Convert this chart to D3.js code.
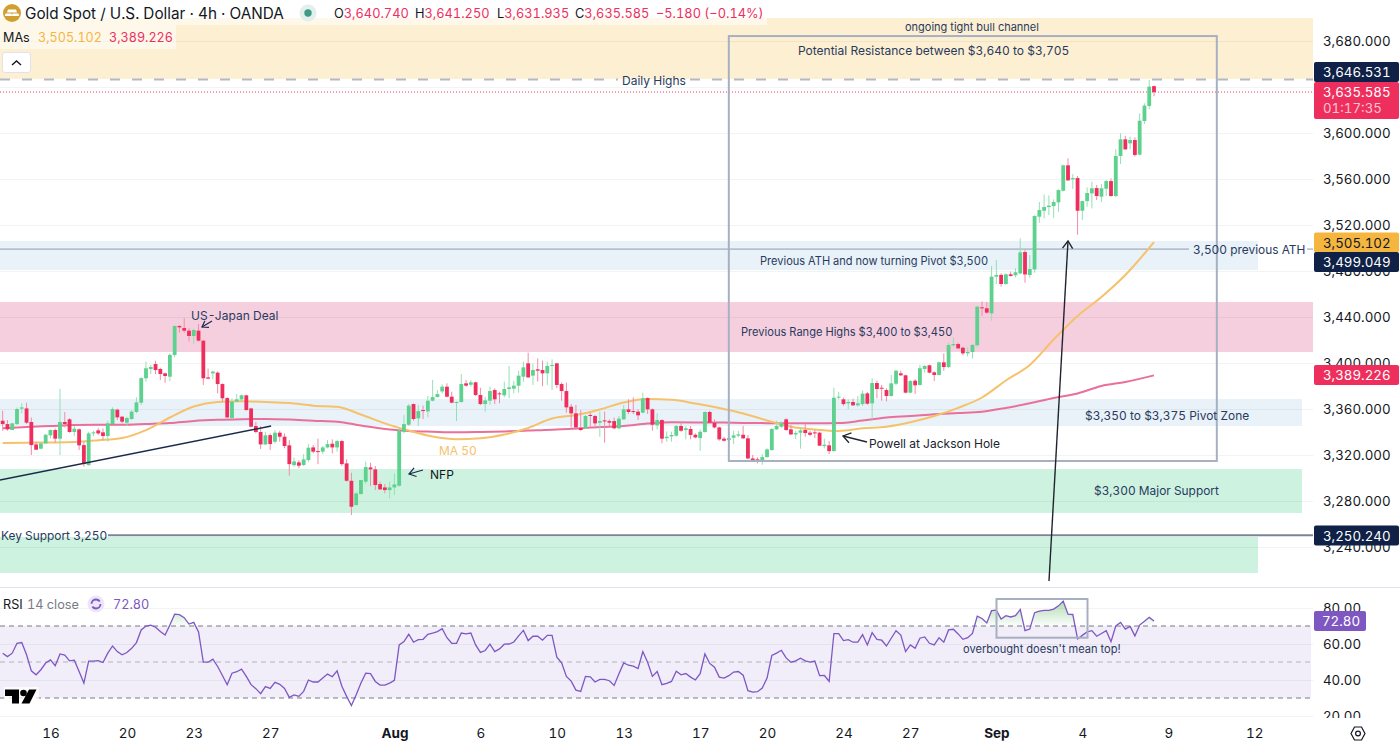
<!DOCTYPE html>
<html>
<head>
<meta charset="utf-8">
<script src="https://d3js.org/d3.v7.min.js"></script>
<style>
html,body{margin:0;padding:0;background:#fff;}
svg{display:block;font-family:Inter,"Noto Sans",sans-serif;font-variant-numeric:tabular-nums;}
</style>
</head>
<body>
<svg id="chart" width="1400" height="742"></svg>
<script>
const opens=[3349.8,3346.9,3341.7,3346.9,3360.3,3360.5,3348.7,3329.2,3325.5,3330.1,
3337.1,3341.7,3334.2,3348.7,3351.0,3340.0,3342.3,3328.6,3311.2,3338.8,
3341.4,3339.7,3336.5,3346.9,3359.4,3353.3,3348.1,3351.3,3357.4,3365.5,
3386.7,3394.8,3399.1,3394.8,3391.0,3388.1,3407.0,3432.2,3430.4,3428.1,
3423.5,3428.1,3419.4,3387.5,3391.0,3391.6,3381.7,3369.5,3352.1,3366.4,
3368.4,3371.9,3360.5,3345.2,3340.0,3329.2,3337.3,3331.5,3339.4,3335.9,
3328.4,3311.2,3313.6,3311.3,3315.6,3326.6,3323.4,3322.9,3326.6,3329.8,
3326.6,3332.1,3312.7,3297.6,3276.5,3286.0,3296.8,3309.2,3307.5,3294.7,
3291.8,3289.5,3291.8,3293.3,3340.2,3346.3,3364.3,3351.9,3359.1,3357.9,
3367.2,3370.4,3375.3,3379.4,3370.7,3365.5,3366.1,3382.3,3381.1,3383.2,
3372.2,3364.3,3367.2,3376.5,3373.6,3371.9,3377.4,3377.7,3380.3,3388.1,
3399.7,3389.0,3394.5,3393.9,3391.0,3397.4,3399.7,3381.7,3375.6,3362.0,
3356.2,3343.7,3343.2,3354.8,3353.9,3348.1,3350.1,3349.5,3349.5,3343.2,
3351.0,3359.7,3358.2,3357.7,3356.8,3369.5,3359.7,3345.8,3350.4,3334.7,
3336.2,3336.8,3345.2,3341.7,3342.6,3337.6,3334.7,3340.0,3357.4,3348.1,
3344.0,3334.2,3333.0,3335.0,3336.8,3337.6,3334.5,3317.0,3316.2,3315.0,
3318.2,3324.3,3342.3,3344.6,3351.0,3342.3,3337.9,3339.4,3341.7,3339.4,
3339.7,3339.4,3327.8,3328.4,3323.4,3370.1,3368.4,3364.9,3366.1,3363.2,
3364.3,3373.6,3364.9,3382.6,3378.5,3376.5,3371.3,3382.0,3391.0,3389.3,
3374.2,3384.6,3380.9,3394.8,3398.0,3391.9,3389.6,3400.6,3396.5,3415.4,
3416.5,3413.3,3408.4,3409.6,3415.4,3448.4,3447.6,3443.2,3475.1,3476.6,
3468.7,3477.1,3476.3,3477.9,3496.5,3476.5,3481.4,3527.2,3532.4,3535.6,
3536.5,3539.7,3549.8,3571.9,3559.7,3560.8,3532.4,3540.8,3547.5,3552.1,
3544.6,3551.6,3558.2,3545.2,3580.0,3594.5,3591.0,3593.9,3581.2,3610.4,3623.5,3640.74];
const highs=[3358.5,3350.4,3348.1,3361.4,3364.9,3365.5,3352.7,3331.5,3331.5,3338.2,
3342.3,3343.1,3377.4,3357.4,3352.1,3345.2,3343.1,3331.5,3340.2,3341.1,
3343.4,3343.1,3349.8,3361.4,3360.3,3353.9,3353.3,3359.1,3370.1,3387.5,
3401.2,3398.3,3402.0,3395.9,3391.6,3408.4,3432.8,3432.8,3438.9,3430.2,
3429.9,3433.9,3420.0,3395.1,3393.3,3392.7,3382.3,3370.1,3369.3,3373.0,
3372.7,3372.4,3361.1,3348.7,3345.2,3340.2,3338.8,3341.7,3341.1,3338.8,
3333.0,3317.9,3315.6,3320.8,3329.5,3328.7,3334.2,3327.8,3333.0,3333.6,
3333.0,3333.0,3316.2,3304.6,3288.0,3298.2,3314.2,3313.3,3310.4,3296.8,
3294.7,3296.8,3304.0,3344.0,3354.8,3364.3,3364.9,3363.5,3362.9,3371.3,
3385.2,3376.5,3381.4,3382.3,3375.0,3366.6,3390.4,3385.2,3385.2,3383.8,
3378.5,3370.7,3379.4,3378.0,3375.0,3383.8,3397.4,3384.6,3393.3,3401.2,
3409.0,3399.7,3404.1,3402.0,3401.2,3403.2,3400.3,3383.2,3382.9,3364.3,
3363.5,3359.1,3354.8,3356.8,3354.8,3357.7,3357.7,3351.0,3352.4,3353.9,
3363.5,3368.4,3370.1,3359.7,3374.2,3370.1,3360.5,3356.2,3351.0,3340.5,
3340.3,3346.1,3349.0,3345.2,3345.2,3338.8,3342.3,3357.9,3358.5,3351.0,
3344.6,3335.9,3340.2,3341.1,3341.1,3345.2,3337.4,3320.0,3317.9,3320.8,
3325.8,3343.4,3349.8,3349.2,3351.9,3346.1,3341.1,3344.0,3347.5,3341.1,
3341.7,3340.2,3334.2,3332.1,3378.5,3375.0,3369.8,3368.4,3369.0,3371.3,
3375.9,3374.8,3386.7,3384.6,3380.9,3378.0,3389.6,3393.9,3393.3,3389.8,
3385.2,3386.1,3398.3,3398.3,3398.5,3392.7,3401.2,3408.4,3417.7,3422.3,
3417.7,3414.2,3413.6,3416.5,3449.6,3453.6,3453.1,3484.4,3489.6,3478.0,
3478.0,3479.5,3482.4,3508.4,3498.2,3493.9,3528.4,3540.0,3546.6,3545.8,
3542.3,3551.0,3572.4,3578.0,3564.3,3562.6,3541.1,3552.7,3557.7,3554.8,
3555.6,3559.1,3560.5,3585.8,3599.7,3597.4,3596.8,3596.2,3617.1,3625.8,3646.1,3641.25];
const lows=[3341.1,3341.1,3341.7,3346.0,3356.2,3346.9,3320.0,3324.3,3324.9,3329.5,
3334.4,3330.7,3320.0,3344.0,3339.4,3336.5,3324.3,3309.8,3310.7,3336.5,
3337.3,3333.0,3331.5,3346.9,3350.4,3347.5,3345.2,3350.4,3356.2,3363.5,
3383.8,3390.4,3390.4,3385.2,3382.9,3384.3,3404.9,3426.4,3426.4,3418.6,
3416.5,3418.8,3380.9,3385.8,3385.8,3373.6,3366.4,3351.9,3351.9,3366.4,
3366.4,3358.5,3344.0,3338.8,3325.2,3328.6,3324.3,3330.1,3331.5,3325.8,
3302.0,3309.8,3308.4,3310.4,3314.2,3321.4,3312.1,3320.8,3325.8,3321.4,
3322.9,3310.4,3296.8,3267.8,3275.9,3286.0,3294.7,3293.0,3289.5,3289.5,
3286.6,3282.2,3285.2,3292.4,3338.8,3345.2,3349.8,3345.2,3351.3,3352.7,
3366.6,3370.1,3373.6,3370.1,3364.9,3349.5,3365.5,3379.4,3379.4,3371.3,
3363.5,3357.7,3363.5,3364.3,3364.9,3370.1,3369.3,3373.6,3374.2,3383.8,
3387.0,3380.9,3383.8,3380.0,3380.9,3376.5,3378.0,3367.2,3356.8,3344.0,
3341.7,3341.1,3342.6,3344.0,3343.2,3335.9,3330.7,3345.2,3342.3,3342.3,
3350.4,3355.6,3355.6,3350.4,3356.2,3355.6,3341.1,3342.3,3330.1,3331.6,
3331.6,3335.9,3340.2,3333.6,3333.6,3334.5,3323.7,3339.4,3347.5,3343.2,
3332.4,3331.6,3325.8,3329.5,3335.3,3333.9,3316.2,3314.4,3312.7,3311.5,
3317.9,3323.7,3341.7,3343.4,3341.1,3337.4,3333.9,3325.5,3335.9,3336.5,
3334.7,3327.8,3325.8,3320.8,3322.9,3368.4,3362.9,3359.7,3362.6,3362.0,
3362.6,3363.7,3351.0,3369.3,3367.2,3366.6,3370.7,3380.6,3388.7,3373.6,
3373.6,3373.0,3380.3,3391.6,3391.0,3384.3,3389.0,3393.3,3395.6,3414.2,
3412.5,3406.9,3405.5,3403.8,3414.2,3440.9,3442.6,3436.8,3468.7,3466.4,
3468.1,3475.1,3474.5,3477.3,3469.8,3474.1,3478.5,3522.0,3525.8,3528.6,
3526.3,3531.5,3549.2,3558.5,3551.3,3511.5,3524.3,3535.9,3534.4,3541.7,
3540.0,3545.2,3544.6,3544.6,3573.0,3585.2,3585.8,3579.4,3580.6,3607.8,3620.6,3631.935];
const closes=[3346.9,3342.3,3347.5,3360.0,3361.4,3348.1,3328.6,3324.6,3330.1,3337.6,
3341.7,3334.2,3348.7,3346.9,3340.0,3342.9,3328.4,3312.1,3338.8,3339.7,
3338.8,3336.5,3347.5,3360.0,3352.7,3349.0,3352.1,3357.7,3365.8,3386.9,
3395.4,3396.5,3393.9,3390.4,3388.7,3407.0,3432.2,3431.0,3428.1,3423.5,
3428.7,3419.4,3386.7,3386.4,3392.5,3381.7,3369.3,3352.7,3366.4,3368.4,
3371.9,3359.1,3344.6,3340.0,3329.2,3337.1,3329.5,3339.4,3335.9,3327.8,
3312.1,3314.4,3310.7,3316.2,3326.3,3322.9,3322.9,3326.6,3329.5,3326.6,
3332.1,3312.1,3297.6,3275.0,3286.6,3298.2,3309.5,3307.5,3293.9,3290.1,
3289.5,3291.8,3294.4,3341.1,3346.9,3362.9,3351.3,3358.2,3358.2,3367.2,
3370.4,3373.0,3379.4,3370.7,3365.5,3366.1,3381.7,3380.3,3383.2,3372.2,
3364.3,3367.5,3375.6,3368.4,3372.7,3377.4,3378.8,3380.3,3389.0,3396.2,
3387.5,3393.9,3393.3,3391.0,3397.4,3398.3,3380.9,3375.6,3361.4,3356.2,
3344.0,3341.7,3353.9,3353.9,3347.5,3349.5,3349.2,3348.1,3343.2,3351.6,
3359.7,3357.4,3357.7,3354.5,3369.3,3359.7,3346.3,3350.4,3334.2,3335.9,
3337.4,3345.2,3341.1,3343.2,3337.4,3335.3,3340.2,3357.4,3348.1,3344.0,
3333.6,3332.4,3334.7,3337.1,3337.9,3334.5,3317.0,3315.6,3315.3,3318.2,
3324.9,3342.6,3345.2,3347.5,3341.7,3337.9,3339.1,3341.4,3339.1,3337.6,
3338.8,3328.1,3328.9,3323.4,3369.8,3370.7,3364.3,3366.1,3363.2,3364.9,
3373.3,3364.6,3382.6,3377.4,3378.0,3371.3,3382.3,3393.3,3389.3,3374.2,
3384.3,3380.6,3395.4,3397.4,3391.6,3389.6,3400.6,3396.5,3415.7,3416.5,
3412.7,3408.4,3409.6,3415.7,3449.0,3447.6,3443.8,3475.1,3476.6,3468.7,
3477.1,3475.7,3478.9,3496.2,3477.0,3481.7,3527.8,3533.0,3535.6,3536.8,
3540.0,3550.4,3571.9,3558.8,3560.8,3532.4,3540.8,3547.8,3551.9,3545.2,
3551.9,3558.2,3545.2,3580.0,3594.5,3585.8,3593.9,3580.9,3610.7,3623.8,3640.3,3635.585];

const maBars=[0,5,10,15,20,25,30,35,40,45,50,55,60,65,70,75,80,85,90,95,100,105,110,115,120,125,130,135,140,145,150,155,160,165,170,175,180,185,190,195,200,205,210,215,220,225,230,235,241];
const ma50=[3330.4,3330.7,3330.9,3331.3,3332.8,3334.8,3341.7,3352.6,3362.2,3366.1,3366.7,3366.1,3365.2,3362.9,3362.0,3355.2,3347.5,3341.3,3336.1,3333.7,3334.5,3337.8,3343.5,3351.7,3354.8,3359.6,3365.7,3368.7,3368.0,3364.8,3360.9,3356.1,3350.0,3344.6,3342.2,3340.9,3343.2,3344.6,3348.4,3353.9,3361.0,3370.0,3384.8,3398.3,3420.4,3440.9,3457.4,3476.5,3505.102];
const ma200=[3343.2,3344.3,3345.2,3346.1,3346.3,3346.3,3347.0,3347.8,3349.6,3350.6,3351.1,3351.3,3350.8,3349.8,3349.0,3345.7,3342.6,3340.9,3340.2,3339.7,3340.0,3340.5,3341.2,3341.9,3343.0,3344.3,3345.2,3347.3,3348.4,3348.3,3348.2,3347.9,3347.7,3347.6,3347.6,3347.8,3350.0,3352.6,3353.9,3355.5,3356.5,3357.6,3360.9,3365.0,3369.6,3373.5,3380.0,3383.5,3389.226];

const rsi=[54.9,53.0,54.9,60.4,60.8,54.0,45.1,42.9,45.7,49.4,
51.2,47.9,54.5,53.8,50.6,51.0,44.7,38.3,50.5,50.5,
50.8,49.7,54.9,58.9,55.8,54.0,55.3,57.6,60.8,67.8,
70.0,70.5,69.3,66.9,65.0,70.5,76.6,76.3,74.6,71.1,
72.0,66.7,49.9,49.9,51.6,47.5,42.5,37.4,43.8,44.6,
46.0,42.0,37.4,35.2,32.4,36.3,35.3,38.7,37.6,35.3,
30.4,31.7,30.9,33.7,40.0,38.9,38.9,41.1,43.3,41.8,
45.1,36.5,30.9,25.8,31.8,38.3,43.8,43.5,39.2,37.2,
37.2,38.3,39.8,59.5,61.3,65.4,61.0,62.4,62.6,65.4,
66.1,66.9,68.5,63.5,60.4,60.4,66.1,65.6,66.1,59.5,
55.3,56.4,59.9,55.8,57.3,59.9,60.0,61.1,64.5,67.6,
61.9,64.3,64.3,62.1,64.8,64.8,52.7,49.5,42.0,39.4,
34.4,33.7,42.0,41.8,38.9,40.3,40.3,39.6,37.0,43.5,
49.5,48.2,47.7,46.4,55.8,49.9,42.0,44.7,37.4,38.1,
39.2,44.9,42.9,43.6,41.6,40.0,43.5,54.5,49.2,47.1,
41.6,41.1,42.4,44.4,44.7,42.7,34.1,33.3,33.5,35.5,
41.1,53.6,54.9,56.5,52.3,49.9,50.6,52.1,50.6,49.9,
50.5,42.4,42.5,39.2,65.8,65.8,61.9,62.4,61.0,61.0,
65.2,59.5,66.3,62.6,62.1,58.9,63.2,67.4,65.0,55.8,
59.5,57.6,63.2,63.9,60.4,59.5,63.5,61.0,67.8,68.2,
65.6,62.6,63.5,65.9,75.5,74.2,71.7,78.5,78.8,73.9,
75.7,75.0,75.7,79.2,67.4,68.3,77.4,78.3,78.7,78.7,
79.4,81.2,83.8,76.6,76.4,62.8,64.8,66.7,67.4,64.3,
65.8,67.4,61.3,70.0,72.0,68.3,69.8,64.5,70.5,72.6,74.8,72.8];

const gridTicks=[3680,3640,3600,3560,3520,3480,3440,3400,3360,3320,3280,3240];
const priceTicks=[3680,3600,3560,3520,3480,3440,3400,3360,3320,3280,3240];
const rsiTicks=[80,60,40,20];
const timeTickBars=[10,26,40,56,82,100,116,130,146,160,176,190,208,226,244,262];
const timeTickLabels=["16","20","23","27","Aug","6","10","13","17","20","24","27","Sep","4","9","12"];
const boldTimeLabels=["Aug","Sep"];
const headerOhlc=[["O","3,640.740"],["H","3,641.250"],["L","3,631.935"],["C","3,635.585"]];

const W=1313;
const x=d3.scaleLinear().domain([0,241]).range([2.67,1154]);
const y=d3.scaleLinear().domain([3680,3240]).range([41,547]);
const yR=d3.scaleLinear().domain([80,20]).range([608,716]);
const svg=d3.select("#chart");
const defs=svg.append("defs");
defs.append("clipPath").attr("id","mainClip").append("rect").attr("x",0).attr("y",0).attr("width",W).attr("height",587);
defs.append("clipPath").attr("id","rsiClip").append("rect").attr("x",0).attr("y",588).attr("width",W).attr("height",134);
defs.append("clipPath").attr("id","axisClip").append("rect").attr("x",W).attr("y",588).attr("width",87).attr("height",130);
defs.append("clipPath").attr("id","obClip").append("rect").attr("x",0).attr("y",588).attr("width",W).attr("height",yR(70)-588);
const grad=defs.append("linearGradient").attr("id","obGrad");
grad.attr("gradientUnits","userSpaceOnUse").attr("x1",0).attr("x2",0).attr("y1",yR(84)).attr("y2",yR(70));
grad.append("stop").attr("offset",0).attr("stop-color","#4caf50").attr("stop-opacity",0.45);
grad.append("stop").attr("offset",1).attr("stop-color","#4caf50").attr("stop-opacity",0.02);

const main=svg.append("g").attr("clip-path","url(#mainClip)");

// zones: price bounds
const zoneTop=[3700,3506.1,3453,3368.7,3307.8,3248.7];
const zoneBottom=[3647,3480.9,3409.6,3345.2,3269.6,3217.4];
const zoneEnd=[W,1258,W,1302,1302,1258];
const zoneFill=["#fdf0d2","#e8f2f8","#f6cfdf","#e9f2f8","#cdf3e0","#cdf3e0"];
main.append("g").selectAll("rect").data(zoneTop).join("rect")
 .attr("x",0).attr("width",(d,i)=>zoneEnd[i])
 .attr("y",d=>y(d)).attr("height",(d,i)=>y(zoneBottom[i])-y(d))
 .attr("fill",(d,i)=>zoneFill[i]);

// grid
main.append("g").selectAll("line").data(gridTicks).join("line")
 .attr("x1",0).attr("x2",W).attr("y1",d=>y(d)+.5).attr("y2",d=>y(d)+.5)
 .attr("stroke","#2a2e39").attr("stroke-opacity",.06);

// level lines behind candles
const dailyHigh=3646.531, lastClose=3635.585, prevAth=3499.049, keySupport=3250.24;
const dashSegs=[[0,618],[690,W]];
main.append("g").selectAll("line").data(dashSegs).join("line")
 .attr("x1",d=>d[0]).attr("x2",d=>d[1]).attr("y1",y(dailyHigh)).attr("y2",y(dailyHigh))
 .attr("stroke","#b2bac8").attr("stroke-width",2).attr("stroke-dasharray","10 12");
main.append("line").attr("x1",0).attr("x2",W).attr("y1",y(lastClose)).attr("y2",y(lastClose))
 .attr("stroke","#f23b63").attr("stroke-dasharray","1 2");
[[0,1189],[1307,W]].forEach(s=>main.append("line").attr("x1",s[0]).attr("x2",s[1]).attr("y1",y(prevAth)).attr("y2",y(prevAth)).attr("stroke","#b7bfcc").attr("stroke-width",1.6));
main.append("line").attr("x1",108).attr("x2",W).attr("y1",y(keySupport)).attr("y2",y(keySupport)).attr("stroke","#7c8598").attr("stroke-width",2);

// MA lines
const lineFor=arr=>d3.line().x((d,i)=>x(maBars[i])).y(d=>y(d)).curve(d3.curveMonotoneX)(arr);
main.append("path").attr("d",lineFor(ma200)).attr("fill","none").attr("stroke","#e8709a").attr("stroke-width",2);
main.append("path").attr("d",lineFor(ma50)).attr("fill","none").attr("stroke","#f5c26b").attr("stroke-width",2);

// candles
const UP="#5dd18d",DOWN="#ee2f5e",UPW="#94e0b5",DOWNW="#f48ba6";
const bars=d3.range(opens.length);
const cg=main.append("g");
cg.selectAll("line").data(bars).join("line")
 .attr("x1",i=>x(i)).attr("x2",i=>x(i)).attr("y1",i=>y(highs[i])).attr("y2",i=>y(lows[i]))
 .attr("stroke",i=>closes[i]>=opens[i]?UPW:DOWNW).attr("stroke-width",1);
cg.selectAll("rect").data(bars).join("rect")
 .attr("x",i=>x(i)-1.9).attr("width",3.8)
 .attr("y",i=>y(Math.max(opens[i],closes[i])))
 .attr("height",i=>Math.max(1,Math.abs(y(opens[i])-y(closes[i]))))
 .attr("fill",i=>closes[i]>=opens[i]?UP:DOWN);

// trend line, box, arrows
const trendBars=[-0.56,56.2], trendPrices=[3298.3,3345.2];
main.append("line").attr("x1",x(trendBars[0])).attr("x2",x(trendBars[1])).attr("y1",y(trendPrices[0])).attr("y2",y(trendPrices[1]))
 .attr("stroke","#1b2a4a").attr("stroke-width",1.4);
const boxBars=[152,254.15], boxPrices=[3684.3,3314.8];
main.append("rect").attr("x",x(boxBars[0])).attr("width",x(boxBars[1])-x(boxBars[0]))
 .attr("y",y(boxPrices[0])).attr("height",y(boxPrices[1])-y(boxPrices[0]))
 .attr("fill","none").attr("stroke","#a6b0c2").attr("stroke-width",2);
function arrow(x1,y1,x2,y2,col,wid,size){
 main.append("line").attr("x1",x1).attr("y1",y1).attr("x2",x2).attr("y2",y2).attr("stroke",col).attr("stroke-width",wid);
 const a=Math.atan2(y1-y2,x1-x2),s=size||8;
 main.append("path").attr("fill","none").attr("stroke",col).attr("stroke-width",wid)
  .attr("d",`M${x2+s*Math.cos(a+.6)} ${y2+s*Math.sin(a+.6)}L${x2} ${y2}L${x2+s*Math.cos(a-.6)} ${y2+s*Math.sin(a-.6)}`);
}
arrow(1049,581,1068,241,"#20242e",1.4,9);
arrow(867,442,843,436,"#20242e",1.3,9);
arrow(423,470,409,474,"#1b2a4a",1.2,8);
arrow(212,321,202,327,"#1b2a4a",1.2,7);

// annotations
const noteColor="#2a3a5e";
const notes=[
 ["ongoing tight bull channel",905,31,11,noteColor],
 ["Potential Resistance between $3,640 to $3,705",798,55,12,noteColor],
 ["Daily Highs",622,85,12,noteColor],
 ["Previous ATH and now turning Pivot $3,500",760,265,11.05,noteColor],
 ["3,500 previous ATH",1193,254,11.9,noteColor],
 ["Previous Range Highs $3,400 to $3,450",741,336,11.1,noteColor],
 ["US-Japan Deal",191,320,12,noteColor],
 ["$3,350 to $3,375 Pivot Zone",1085,420,11.95,noteColor],
 ["Powell at Jackson Hole",869,448,12,"#20242e"],
 ["MA 50",439,455,12,"#f5c26b"],
 ["NFP",430,479,12,"#131722"],
 ["$3,300 Major Support",1094,495,11.9,noteColor],
 ["Key Support 3,250",1,540,11.9,noteColor]
];
main.append("g").selectAll("text").data(notes).join("text")
 .attr("x",d=>d[1]).attr("y",d=>d[2]).attr("font-size",d=>d[3]).attr("fill",d=>d[4]).text(d=>d[0]);

// pane separator
svg.append("line").attr("x1",0).attr("x2",1400).attr("y1",587.5).attr("y2",587.5).attr("stroke","#e0e3eb");

// RSI pane
const rp=svg.append("g").attr("clip-path","url(#rsiClip)");
rp.append("rect").attr("x",0).attr("width",1311).attr("y",yR(70)).attr("height",yR(30)-yR(70)).attr("fill","#f1edf9");
rp.append("g").selectAll("line").data(rsiTicks).join("line")
 .attr("x1",0).attr("x2",W).attr("y1",d=>yR(d)+.5).attr("y2",d=>yR(d)+.5).attr("stroke","#2a2e39").attr("stroke-opacity",.06);
const rsiBands=[70,50,30];
rp.append("g").selectAll("line").data(rsiBands).join("line")
 .attr("x1",0).attr("x2",W).attr("y1",d=>yR(d)).attr("y2",d=>yR(d))
 .attr("stroke",d=>d===50?"#b3b3bb":"#787b86").attr("stroke-dasharray","5 4");
rp.append("path").attr("clip-path","url(#obClip)").attr("fill","url(#obGrad)")
 .attr("d",d3.area().x((d,i)=>x(i)).y0(yR(70)).y1(d=>yR(d))(rsi));
rp.append("path").attr("fill","none").attr("stroke","#7e57c2").attr("stroke-width",1.3)
 .attr("d",d3.line().x((d,i)=>x(i)).y(d=>yR(d))(rsi));
const obVals=[85,63.5];
svg.append("rect").attr("x",996.5).attr("width",91).attr("y",yR(obVals[0])).attr("height",yR(obVals[1])-yR(obVals[0]))
 .attr("fill","none").attr("stroke","#a6b0c2").attr("stroke-width",2);
svg.append("text").attr("x",963).attr("y",653).attr("font-size",11.1).attr("fill",noteColor).text("overbought doesn't mean top!");

// TV logo
const logo=svg.append("g");
logo.append("rect").attr("x",4).attr("y",687).attr("width",35).attr("height",19).attr("fill","#fff").attr("opacity",.75);
logo.append("path").attr("fill","#000").attr("d","M5 689.5h14v14h-7v-7.5h-7z");
logo.append("circle").attr("cx",23.5).attr("cy",693).attr("r",3.3).attr("fill","#000");
logo.append("path").attr("fill","#000").attr("d","M29 689.5h7.5l-7 14h-8z");

// price axis
const AX=13.3;
const axisG=svg.append("g").attr("transform",`translate(${W},0)`)
 .call(d3.axisRight(y).tickValues(priceTicks).tickSize(0).tickPadding(10).tickFormat(d=>d3.format(",")(d)+".000"));
axisG.select(".domain").remove();
axisG.selectAll("text").attr("font-family","Inter").attr("font-size",AX).attr("fill","#131722");
const rsiAxis=svg.append("g").attr("clip-path","url(#axisClip)").append("g").attr("transform",`translate(${W},0)`)
 .call(d3.axisRight(yR).tickValues(rsiTicks).tickSize(0).tickPadding(10).tickFormat(d3.format(".2f")));
rsiAxis.select(".domain").remove();
rsiAxis.selectAll("text").attr("font-family","Inter").attr("font-size",AX).attr("fill","#131722");

// time axis
const tAxis=svg.append("g").attr("transform","translate(0,722)")
 .call(d3.axisBottom(x).tickValues(timeTickBars).tickSize(0).tickPadding(6).tickFormat((d,i)=>timeTickLabels[i]));
tAxis.select(".domain").remove();
tAxis.selectAll("text").attr("font-family","Inter").attr("font-size",13.5).attr("fill","#131722")
 .attr("font-weight",(d,i)=>boldTimeLabels.includes(timeTickLabels[i])?700:400);

// price labels
const labelText=["3,646.531","3,505.102","3,499.049","3,389.226","3,250.240"];
const labelTop=[62,232.5,252,365,525.5];
const labelFill=["#0f2146","#f5b63f","#0f2146","#ee2f5e","#0f2146"];
const labelInk=["#fff","#131722","#fff","#fff","#fff"];
const lg=svg.append("g");
lg.selectAll("rect").data(labelText).join("rect")
 .attr("x",W+1).attr("width",85).attr("y",(d,i)=>labelTop[i]).attr("height",20).attr("rx",2).attr("fill",(d,i)=>labelFill[i]);
lg.append("rect").attr("x",W+1).attr("y",82).attr("width",85).attr("height",37).attr("rx",2).attr("fill","#ee2f5e");
lg.selectAll("text.l").data(labelText).join("text").attr("class","l")
 .attr("x",W+10).attr("y",(d,i)=>labelTop[i]+15).attr("font-size",AX).attr("fill",(d,i)=>labelInk[i]).text(d=>d);
lg.append("text").attr("x",W+10).attr("y",97).attr("font-size",AX).attr("fill","#fff").text("3,635.585");
lg.append("text").attr("x",W+10).attr("y",113).attr("font-size",AX).attr("fill","#fbc3cf").text("01:17:35");
lg.append("rect").attr("x",W+1).attr("y",611).attr("width",52).attr("height",20).attr("rx",2).attr("fill","#7e57c2");
lg.append("text").attr("x",W+9).attr("y",626).attr("font-size",AX).attr("fill","#fff").text("72.80");

// header
const hdr=svg.append("g");
hdr.append("rect").attr("x",0).attr("y",0).attr("width",767).attr("height",25).attr("fill","#fff").attr("opacity",.55);
hdr.append("circle").attr("cx",12).attr("cy",13).attr("r",9).attr("fill","#d19f2f");
hdr.append("path").attr("fill","#fff").attr("d","M8 9.5h8l1 3h-10zM5.5 13.5h6l.6 2.5h-7.2zM12.5 13.5h6l.6 2.5h-7.2z");
hdr.append("text").attr("x",25).attr("y",19).attr("font-size",15.3).attr("fill","#131722").text("Gold Spot / U.S. Dollar · 4h · OANDA");
hdr.append("circle").attr("cx",308).attr("cy",13).attr("r",8.5).attr("fill","#e3efec");
hdr.append("circle").attr("cx",308).attr("cy",13).attr("r",3.7).attr("fill","#3d9b85");
const ohlcX=[334,415,497,575];
const RED="#ee2f5e";
hdr.selectAll("text.o").data(headerOhlc).join("text").attr("class","o")
 .attr("x",(d,i)=>ohlcX[i]).attr("y",18).attr("font-size",12.8).attr("fill","#131722")
 .html(d=>d[0]+`<tspan fill="${RED}">${d[1]}</tspan>`);
hdr.append("text").attr("x",656).attr("y",18).attr("font-size",12.8).attr("fill",RED).text("−5.180 (−0.14%)");
hdr.append("rect").attr("x",0).attr("y",25).attr("width",176).attr("height",24).attr("fill","#fff").attr("opacity",.55);
hdr.append("text").attr("x",3).attr("y",42).attr("font-size",12.6).attr("fill","#131722").text("MAs");
hdr.append("text").attr("x",38).attr("y",42).attr("font-size",12.6).attr("fill","#f5b63f").text("3,505.102");
hdr.append("text").attr("x",109).attr("y",42).attr("font-size",12.6).attr("fill",RED).text("3,389.226");
hdr.append("rect").attr("x",2.5).attr("y",52.5).attr("width",28).attr("height",20).attr("rx",2.5).attr("fill","#fff").attr("stroke","#e0e3eb");
hdr.append("path").attr("fill","none").attr("stroke","#131722").attr("stroke-width",1.4).attr("d","M12 65l4.5-4 4.5 4");

// RSI legend
hdr.append("text").attr("x",3).attr("y",609).attr("font-size",12.7).attr("fill","#131722").text("RSI");
hdr.append("text").attr("x",27).attr("y",609).attr("font-size",12.7).attr("fill","#787b86").text("14 close");
hdr.append("circle").attr("cx",96).attr("cy",604).attr("r",8.5).attr("fill","#ece6f8");
hdr.append("circle").attr("cx",96).attr("cy",604).attr("r",4.5).attr("fill","none").attr("stroke","#7e57c2").attr("stroke-width",1.8).attr("stroke-dasharray","11 3");
hdr.append("text").attr("x",113).attr("y",609).attr("font-size",12.7).attr("fill","#7e57c2").text("72.80");

// settings icon
hdr.append("path").attr("fill","none").attr("stroke","#131722").attr("stroke-width",1.2).attr("d","M1354.5 727h7l3.5 6.5l-3.5 6.5h-7l-3.5-6.5z");
hdr.append("circle").attr("cx",1358).attr("cy",733.5).attr("r",2.4).attr("fill","none").attr("stroke","#131722").attr("stroke-width",1.2);
</script>
</body>
</html>
